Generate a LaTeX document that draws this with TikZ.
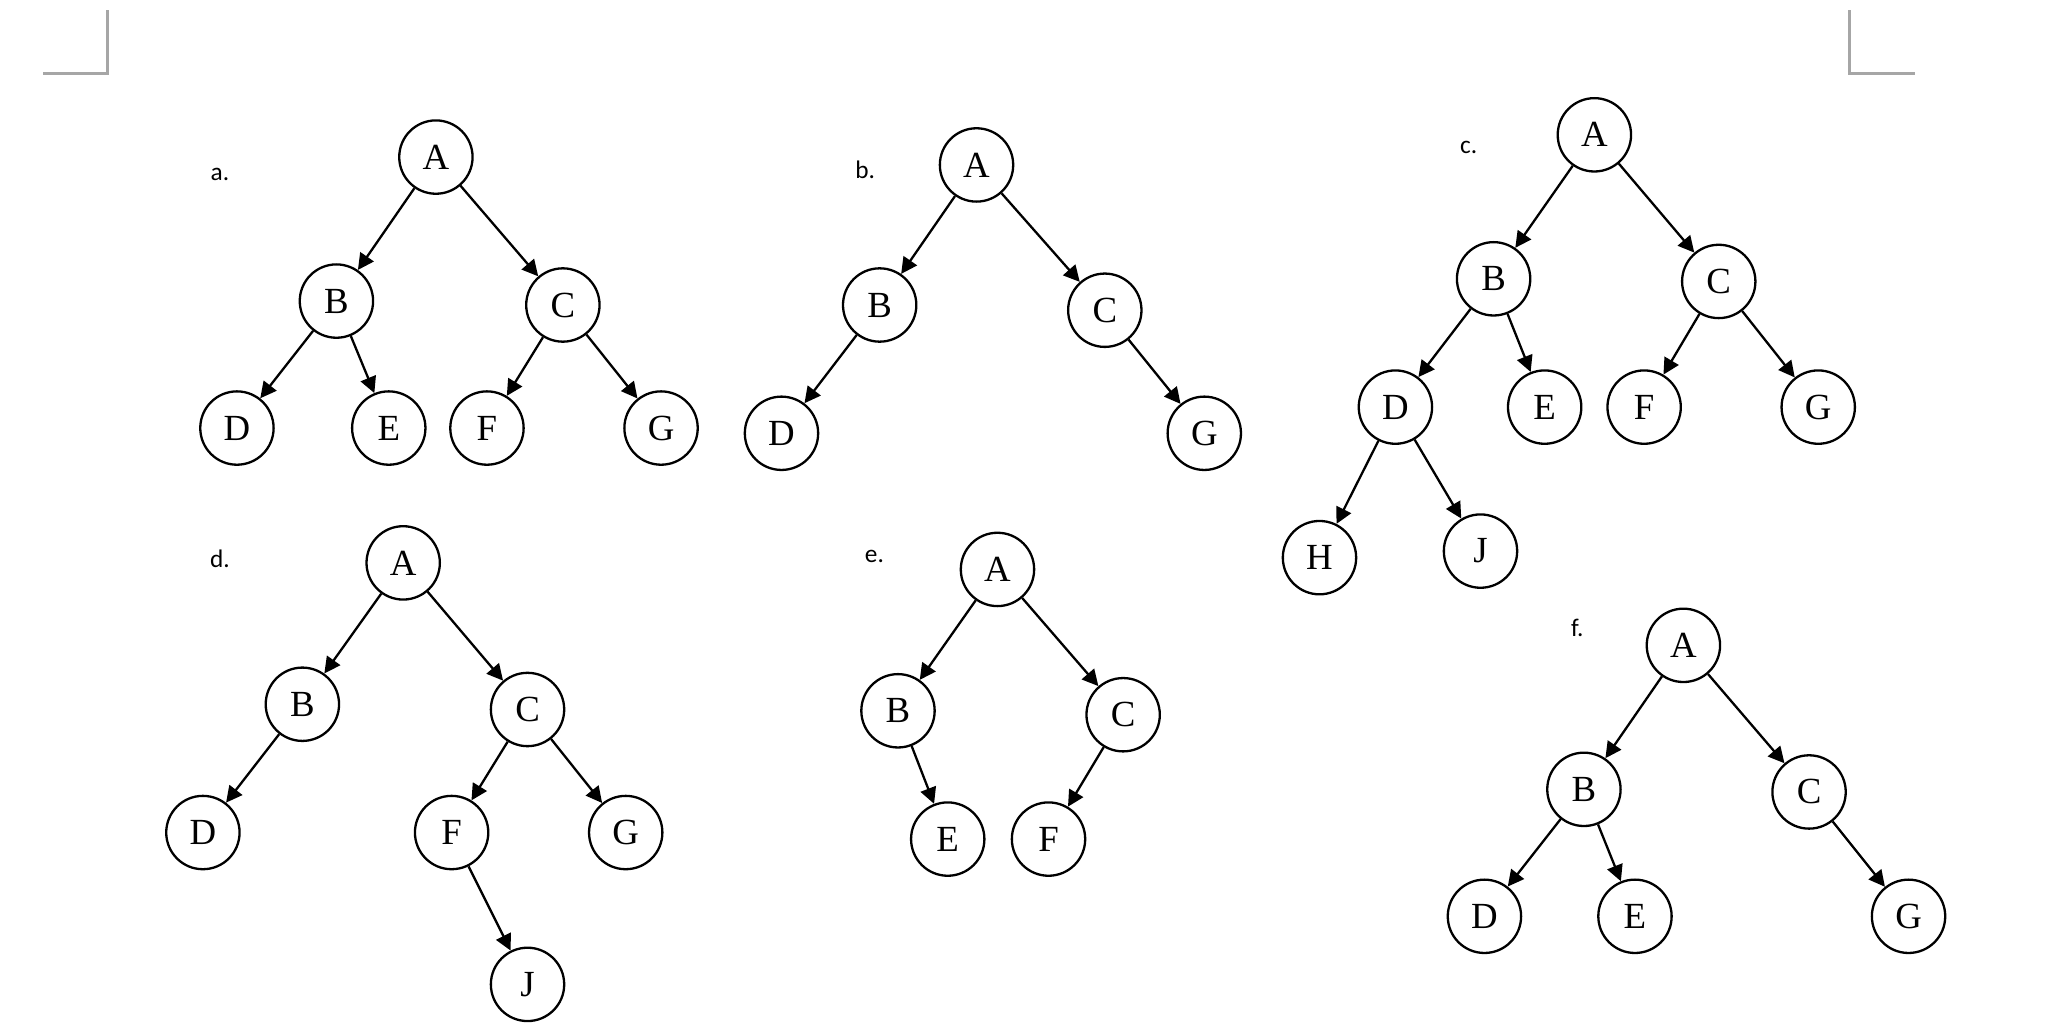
\documentclass[tikz,border=0pt]{standalone}
\usepackage{fontspec}
\setmainfont{Liberation Serif}
\newfontfamily\lab{Carlito}
\usetikzlibrary{arrows.meta}
\begin{document}
\begin{tikzpicture}[x=0.01cm,y=-0.01cm,
 nd/.style={circle,draw,line width=0.5pt,minimum size=0.56cm,inner sep=0pt,font=\fontsize{8}{8}\selectfont},
 ed/.style={-{Triangle[length=3.5pt,width=3.5pt]},line width=0.5pt},
 lb/.style={font=\lab\fontsize{5.5}{6}\selectfont},
 crn/.style={gray!70,line width=0.6pt}]
\useasboundingbox (0,0) rectangle (1563,791);
\draw[crn] (82,8) -- (82,56) -- (33,56);
\draw[crn] (1413,8) -- (1413,56) -- (1463,56);
% a
\node[lb] (la) at (168,133) {a.};
\node[nd] (aA) at (333,120) {A}; \node[nd] (aB) at (257,230) {B}; \node[nd] (aC) at (430,233) {C};
\node[nd] (aD) at (181,327) {D}; \node[nd] (aE) at (297,327) {E}; \node[nd] (aF) at (372,327) {F}; \node[nd] (aG) at (505,327) {G};
\foreach \u/\v in {aA/aB,aA/aC,aB/aD,aB/aE,aC/aF,aC/aG} \draw[ed] (\u) -- (\v);
% b
\node[lb] (lbb) at (661,130) {b.};
\node[nd] (bA) at (746,126) {A}; \node[nd] (bB) at (672,233) {B}; \node[nd] (bC) at (844,237) {C};
\node[nd] (bD) at (597,331) {D}; \node[nd] (bG) at (920,331) {G};
\foreach \u/\v in {bA/bB,bA/bC,bB/bD,bC/bG} \draw[ed] (\u) -- (\v);
% c
\node[lb] (lc) at (1122,113) {c.};
\node[nd] (cA) at (1218,103) {A}; \node[nd] (cB) at (1141,213) {B}; \node[nd] (cC) at (1313,215) {C};
\node[nd] (cD) at (1066,311) {D}; \node[nd] (cE) at (1180,311) {E}; \node[nd] (cF) at (1256,311) {F}; \node[nd] (cG) at (1389,311) {G};
\node[nd] (cH) at (1008,426) {H}; \node[nd] (cJ) at (1131,421) {J};
\foreach \u/\v in {cA/cB,cA/cC,cB/cD,cB/cE,cC/cF,cC/cG,cD/cH,cD/cJ} \draw[ed] (\u) -- (\v);
% d
\node[lb] (ld) at (168,427) {d.};
\node[nd] (dA) at (308,430) {A}; \node[nd] (dB) at (231,538) {B}; \node[nd] (dC) at (403,542) {C};
\node[nd] (dD) at (155,636) {D}; \node[nd] (dF) at (345,636) {F}; \node[nd] (dG) at (478,636) {G}; \node[nd] (dJ) at (403,752) {J};
\foreach \u/\v in {dA/dB,dA/dC,dB/dD,dC/dF,dC/dG,dF/dJ} \draw[ed] (\u) -- (\v);
% e
\node[lb] (le) at (668,425) {e.};
\node[nd] (eA) at (762,435) {A}; \node[nd] (eB) at (686,543) {B}; \node[nd] (eC) at (858,546) {C};
\node[nd] (eE) at (724,641) {E}; \node[nd] (eF) at (801,641) {F};
\foreach \u/\v in {eA/eB,eA/eC,eB/eE,eC/eF} \draw[ed] (\u) -- (\v);
% f
\node[lb] (lf) at (1205,480) {f.};
\node[nd] (fA) at (1286,493) {A}; \node[nd] (fB) at (1210,603) {B}; \node[nd] (fC) at (1382,605) {C};
\node[nd] (fD) at (1134,700) {D}; \node[nd] (fE) at (1249,700) {E}; \node[nd] (fG) at (1458,700) {G};
\foreach \u/\v in {fA/fB,fA/fC,fB/fD,fB/fE,fC/fG} \draw[ed] (\u) -- (\v);
\end{tikzpicture}
\end{document}
